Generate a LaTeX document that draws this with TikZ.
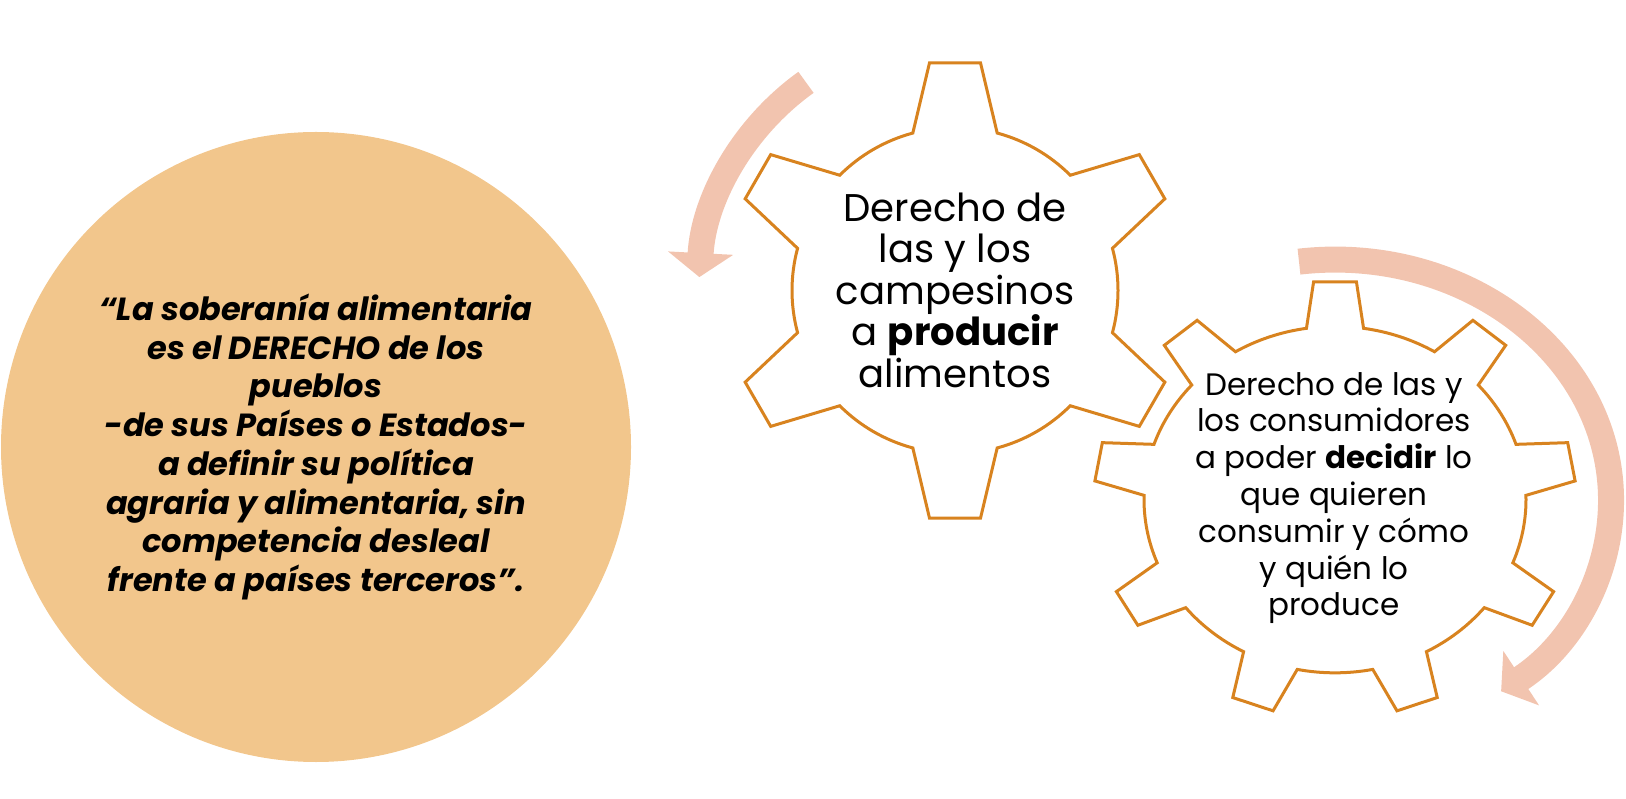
\documentclass[tikz,border=0pt]{standalone}
\usepackage{fontspec}
\setmainfont{Poppins}
\usetikzlibrary{arrows.meta}

\definecolor{circfill}{RGB}{242,198,140}
\definecolor{gearline}{RGB}{216,131,31}
\definecolor{arrowfill}{RGB}{242,196,175}

\begin{document}
\begin{tikzpicture}[x=0.5pt,y=0.5pt,
  gear/.style={draw=gearline,line width=1.5pt,fill=white},
  turn/.style={draw=arrowfill,line width=13pt,-{Triangle[width=32pt,length=12pt]}},
  every node/.style={inner sep=0pt,align=center}]

\useasboundingbox (0,0) rectangle (1626,798);

%% soberania
\node[circle,fill=circfill,minimum size=315pt,
  font=\fontsize{16}{19.35}\selectfont\bfseries\itshape] (sob) at (316,351)
  {“La soberanía alimentaria\\es el DERECHO de los\\pueblos\\-de sus Países o Estados-\\a definir su política\\agraria y alimentaria, sin\\competencia desleal\\frente a países terceros”.};

%% campesinos
\begin{scope}[shift={(955,507.5)}]
  \draw[gear] (75:163) \foreach \a in {90,150,...,390}
    {-- (\a-6.4:229) -- (\a+6.4:229) -- (\a+15:163)
     arc[start angle=\a+15,end angle=\a+45,radius=163]} -- cycle;
  \draw[turn] (125.6:256) arc[start angle=125.6,end angle=177,radius=256];
\end{scope}

\node[font=\fontsize{19.3}{20.75}\selectfont] (prod) at (955,508)
  {Derecho de\\las y los\\campesinos\\a \textbf{producir}\\alimentos};

%% consumidores
\begin{scope}[shift={(1335,298.4)},yscale=0.907]
  \draw[gear] (81.4:191) \foreach \a in {90,130,...,410}
    {-- (\a-5.1:241) -- (\a+5.1:241) -- (\a+8.6:191)
     arc[start angle=\a+8.6,end angle=\a+31.4,radius=191]} -- cycle;
\end{scope}
\draw[turn] (1335,298.4) ++(97.5:276 and 240)
  arc[start angle=97.5,end angle=-53,x radius=276,y radius=240];

\node[font=\fontsize{15.5}{18.4}\selectfont] (cons) at (1334,300)
  {Derecho de las y\\los consumidores\\a poder \textbf{decidir} lo\\que quieren\\consumir y cómo\\y quién lo\\produce};

\end{tikzpicture}
\end{document}
